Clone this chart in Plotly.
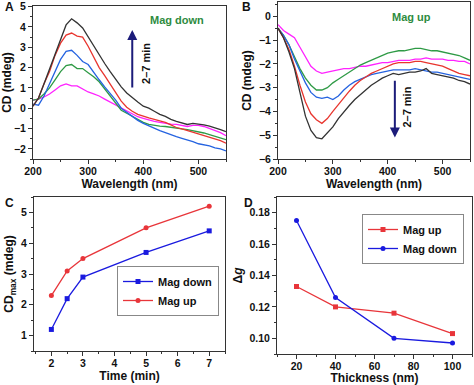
import plotly.graph_objects as go

# ---------------- data ----------------
wavelength = list(range(200, 551, 10))

# Panel A (Mag down), 2 -> 7 min
a_magenta = [0.4, 0.45, 0.55, 0.7, 0.9, 1.1, 1.2, 1.1, 1.1, 0.95, 0.8, 0.7, 0.6, 0.45, 0.3, 0.15, 0.0, -0.15, -0.3, -0.42,
             -0.5, -0.58, -0.65, -0.7, -0.75, -0.78, -0.8, -0.85, -0.9, -0.85, -0.85, -0.9, -1.0, -1.1, -1.2, -1.35]
a_green = [0.4, 0.45, 0.7, 1.0, 1.4, 1.8, 2.1, 2.15, 1.95, 1.95, 1.75, 1.55, 1.3, 0.95, 0.65, 0.3, -0.1, -0.25, -0.4, -0.55,
           -0.7, -0.8, -0.85, -0.88, -0.9, -0.95, -1.0, -1.02, -1.05, -1.1, -1.15, -1.22, -1.3, -1.38, -1.45, -1.55]
a_blue = [0.2, 0.15, 0.6, 1.2, 1.8, 2.4, 2.8, 2.85, 2.6, 2.3, 2.15, 1.75, 1.4, 1.05, 0.75, 0.4, 0.0, -0.2, -0.4, -0.6,
          -0.75, -0.88, -1.0, -1.1, -1.2, -1.32, -1.4, -1.48, -1.55, -1.65, -1.75, -1.8, -1.85, -1.95, -2.0, -2.1]
a_red = [0.1, 0.5, 1.2, 1.8, 2.6, 3.2, 3.6, 3.7, 3.55, 3.5, 3.05, 2.5, 2.0, 1.6, 1.2, 0.75, 0.35, 0.05, -0.15, -0.3,
         -0.4, -0.48, -0.55, -0.62, -0.7, -0.82, -0.95, -1.02, -1.1, -1.2, -1.27, -1.35, -1.43, -1.52, -1.6, -1.72]
a_black = [0.1, 0.5, 1.2, 1.9, 2.7, 3.4, 4.1, 4.4, 4.2, 3.95, 3.5, 3.05, 2.6, 2.2, 1.8, 1.4, 1.05, 0.75, 0.5, 0.3,
           0.1, 0.0, -0.15, -0.3, -0.4, -0.55, -0.65, -0.72, -0.8, -0.75, -0.78, -0.82, -0.88, -0.95, -1.05, -1.15]

# Panel B (Mag up), 2 -> 7 min
b_magenta = [-0.35, -0.6, -0.75, -0.9, -1.3, -1.7, -2.1, -2.3, -2.4, -2.35, -2.3, -2.25, -2.2, -2.2, -2.15, -2.1, -2.1, -2.05,
             -2.0, -1.95, -1.95, -1.9, -1.85, -1.85, -1.85, -1.8, -1.8, -1.75, -1.8, -1.8, -1.8, -1.85, -1.85, -1.9, -1.9, -2.0]
b_green = [-0.5, -0.8, -1.2, -1.7, -2.2, -2.6, -2.9, -3.1, -3.1, -3.0, -2.8, -2.65, -2.5, -2.35, -2.2, -2.05, -1.95, -1.85,
           -1.75, -1.65, -1.55, -1.5, -1.45, -1.45, -1.4, -1.35, -1.35, -1.4, -1.45, -1.45, -1.5, -1.55, -1.6, -1.65, -1.75, -1.85]
b_blue = [-0.5, -0.8, -1.2, -1.8, -2.3, -2.8, -3.2, -3.4, -3.45, -3.4, -3.5, -3.35, -3.1, -2.9, -2.75, -2.65, -2.55, -2.45,
          -2.4, -2.35, -2.3, -2.25, -2.25, -2.25, -2.25, -2.2, -2.25, -2.3, -2.35, -2.35, -2.4, -2.45, -2.5, -2.55, -2.6, -2.65]
b_red = [-0.5, -0.9, -1.4, -2.1, -2.9, -3.6, -4.1, -4.35, -4.5, -4.3, -4.0, -3.7, -3.4, -3.15, -2.9, -2.7, -2.55, -2.4,
         -2.3, -2.2, -2.1, -2.0, -1.95, -1.95, -1.95, -1.9, -1.9, -1.95, -2.0, -2.05, -2.1, -2.2, -2.3, -2.4, -2.45, -2.5]
b_black = [-0.5, -0.9, -1.5, -2.2, -3.2, -4.2, -4.8, -5.1, -5.15, -4.9, -4.65, -4.3, -4.0, -3.75, -3.5, -3.3, -3.1, -2.9,
           -2.75, -2.6, -2.5, -2.4, -2.45, -2.4, -2.35, -2.35, -2.3, -2.2, -2.4, -2.45, -2.5, -2.55, -2.6, -2.7, -2.75, -2.85]

# Panel C
time_min = [2, 2.5, 3, 5, 7]
cdmax_down = [1.2, 2.2, 2.9, 3.7, 4.4]
cdmax_up = [2.3, 3.1, 3.5, 4.5, 5.2]

# Panel D
thickness = [20, 40, 70, 100]
dg_up = [0.133, 0.120, 0.116, 0.103]
dg_down = [0.175, 0.126, 0.100, 0.097]

# ---------------- style ----------------
FONT = "Liberation Sans"
C_BLACK, C_RED, C_BLUE, C_GREEN, C_MAG = "#333333", "#e8352e", "#2563e0", "#2e9a45", "#ff22ff"
LINE_RED, LINE_BLUE = "#e8353a", "#1a1adf"
W, H = 474, 385

def px_x(a, b):
    return [a / W, b / W]

def px_y(top, bottom):
    return [1 - bottom / H, 1 - top / H]

fig = go.Figure()

spec_colors = [C_MAG, C_GREEN, C_BLUE, C_RED, C_BLACK]
for ys, col in zip([a_magenta, a_green, a_blue, a_red, a_black], spec_colors):
    fig.add_trace(go.Scatter(x=wavelength, y=ys, mode="lines", line=dict(color=col, width=1.3),
                             xaxis="x", yaxis="y", showlegend=False))
for ys, col in zip([b_magenta, b_green, b_blue, b_red, b_black], spec_colors):
    fig.add_trace(go.Scatter(x=wavelength, y=ys, mode="lines", line=dict(color=col, width=1.3),
                             xaxis="x2", yaxis="y2", showlegend=False))

fig.add_trace(go.Scatter(x=time_min, y=cdmax_down, mode="lines+markers", name="Mag down",
                         line=dict(color=LINE_BLUE, width=1.3), marker=dict(symbol="square", size=5, color=LINE_BLUE),
                         xaxis="x3", yaxis="y3", legend="legend"))
fig.add_trace(go.Scatter(x=time_min, y=cdmax_up, mode="lines+markers", name="Mag up",
                         line=dict(color=LINE_RED, width=1.3), marker=dict(symbol="circle", size=5, color=LINE_RED),
                         xaxis="x3", yaxis="y3", legend="legend"))
fig.add_trace(go.Scatter(x=thickness, y=dg_up, mode="lines+markers", name="Mag up",
                         line=dict(color=LINE_RED, width=1.3), marker=dict(symbol="square", size=5, color=LINE_RED),
                         xaxis="x4", yaxis="y4", legend="legend2"))
fig.add_trace(go.Scatter(x=thickness, y=dg_down, mode="lines+markers", name="Mag down",
                         line=dict(color=LINE_BLUE, width=1.3), marker=dict(symbol="circle", size=5, color=LINE_BLUE),
                         xaxis="x4", yaxis="y4", legend="legend2"))

tickfont = dict(family=FONT, size=10.5, color="#111", weight="bold")
titlefont = dict(family=FONT, size=12, color="#111", weight="bold")

def ax(domain, rng, dtick, minor_dtick, title, anchor, standoff, tickformat=None, is_x=True):
    d = dict(domain=domain, range=rng, dtick=dtick, showline=True, linecolor="#333", linewidth=1,
             mirror=True, ticks="outside", ticklen=4, tickwidth=1, tickcolor="#333",
             minor=dict(ticks="outside", ticklen=2, dtick=minor_dtick, tickcolor="#333"),
             showgrid=False, zeroline=False, tickfont=tickfont, automargin=False,
             ticklabeloverflow="allow",
             title=dict(text=title, font=titlefont, standoff=standoff), anchor=anchor)
    if is_x:
        d["ticklabelstandoff"] = -2
    if tickformat is not None:
        d["tickformat"] = tickformat
    return d

legfont = dict(family=FONT, size=11, color="#111", weight="bold")
fig.update_layout(
    width=W, height=H, margin=dict(l=0, r=0, t=0, b=0),
    paper_bgcolor="white", plot_bgcolor="white",
    xaxis=ax(px_x(33, 226), [200, 550], 100, 50, "Wavelength (nm)", "y", 4),
    yaxis=ax(px_y(6, 159), [-2.5, 5.03], 1, 0.5, "CD (mdeg)", "x", 4, is_x=False),
    xaxis2=ax(px_x(278, 470), [200, 550], 100, 50, "Wavelength (nm)", "y2", 4),
    yaxis2=ax(px_y(2, 159), [-6, 0.6], 1, 0.5, "CD (mdeg)", "x2", 4, is_x=False),
    xaxis3=ax(px_x(34, 225), [1.45, 7.5], 1, 0.5, "Time (min)", "y3", 4),
    yaxis3=ax(px_y(197, 351), [0.5, 5.5], 1, 0.5, "CD<sub>max</sub> (mdeg)", "x3", 4, is_x=False),
    xaxis4=ax(px_x(277, 472), [10, 110], 20, 10, "Thickness (nm)", "y4", 3),
    yaxis4=ax(px_y(197, 354), [0.09, 0.19], 0.02, 0.01, "Δ<i>g</i>", "x4", 4, ".2f", is_x=False),
    legend=dict(x=219 / W, y=1 - 266 / H, xanchor="right", yanchor="top", bgcolor="white",
                bordercolor="#888", borderwidth=1, font=legfont, tracegroupgap=0, itemwidth=30),
    legend2=dict(x=464 / W, y=1 - 214 / H, xanchor="right", yanchor="top", bgcolor="white",
                 bordercolor="#888", borderwidth=1, font=legfont, tracegroupgap=0, itemwidth=30),
)

ann = []
# panel letters
for letter, x, y in [("A", 3, 7), ("B", 240, 7), ("C", 3, 203), ("D", 242, 203)]:
    ann.append(dict(text=letter, x=x / W, y=1 - y / H, xref="paper", yref="paper", xanchor="left",
                    yanchor="middle", showarrow=False, font=dict(family=FONT, size=12, color="#111", weight="bold")))
# panel A
ann.append(dict(text="Mag down", x=462, y=4.35, xref="x", yref="y", showarrow=False,
                font=dict(family=FONT, size=11, color="#2e8b3e", weight="bold")))
ann.append(dict(x=380, y=3.85, ax=380, ay=0.95, xref="x", yref="y", axref="x", ayref="y", text="",
                showarrow=True, arrowhead=2, arrowsize=1, arrowwidth=2, arrowcolor="#1c1c7a"))
ann.append(dict(text="2–7 min", x=404, y=2.2, xref="x", yref="y", showarrow=False, textangle=-90,
                font=dict(family=FONT, size=11, color="#111", weight="bold")))
# panel B
ann.append(dict(text="Mag up", x=444, y=-0.05, xref="x2", yref="y2", showarrow=False,
                font=dict(family=FONT, size=11, color="#2e8b3e", weight="bold")))
ann.append(dict(x=413, y=-5.1, ax=413, ay=-2.65, xref="x2", yref="y2", axref="x2", ayref="y2", text="",
                showarrow=True, arrowhead=2, arrowsize=1, arrowwidth=2, arrowcolor="#1c1c7a"))
ann.append(dict(text="2–7 min", x=435, y=-3.8, xref="x2", yref="y2", showarrow=False, textangle=-90,
                font=dict(family=FONT, size=11, color="#111", weight="bold")))
fig.update_layout(annotations=ann)

fig.write_html("out.html", config={"displayModeBar": False},
               post_script="document.body.style.margin='0';document.body.style.padding='0';")
